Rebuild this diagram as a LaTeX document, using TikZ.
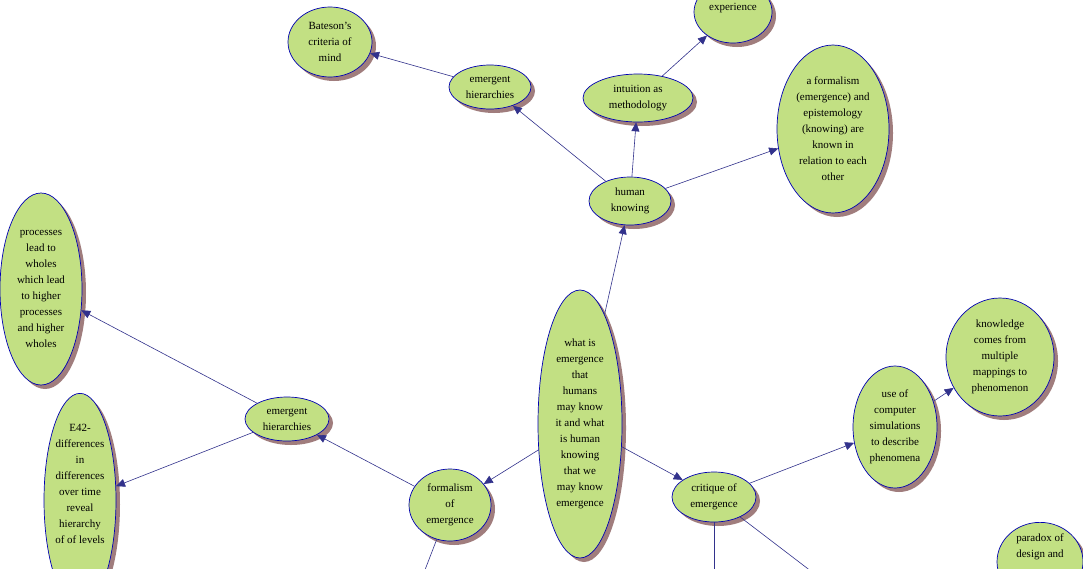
\documentclass[tikz,border=0pt]{standalone}
\usepackage{fontspec}
\setmainfont{Liberation Serif}
\usetikzlibrary{shapes.geometric,arrows.meta,shadows}
\begin{document}
\begin{tikzpicture}[x=1pt,y=1pt,
  nd/.style={ellipse,draw=blue!70!black,line width=0.7pt,fill=green!40!yellow!55!white,fill={rgb,255:red,194;green,224;blue,131},
    inner sep=0pt,align=center,font=\fontsize{11}{16}\selectfont,
    drop shadow={shadow xshift=4pt,shadow yshift=-4pt,fill={rgb,255:red,160;green,125;blue,125},opacity=1}},
  ar/.style={draw={rgb,255:red,50;green,50;blue,140},line width=0.6pt,-{Triangle[length=9pt,width=8pt]},
    shorten >=0pt},
  ln/.style={draw={rgb,255:red,50;green,50;blue,140},line width=0.6pt}]
\clip (0,0) rectangle (1083,-568);
\useasboundingbox (0,0) rectangle (1083,-568);
\fill[white] (0,0) rectangle (1083,-568);
\node[nd,minimum width=78,minimum height=62] (exp) at (733,-12) {\raisebox{10pt}{experience}};
\node[nd,minimum width=84,minimum height=70] (bat) at (330,-42) {Bateson's\\criteria of\\mind};
\node[nd,minimum width=82,minimum height=44] (eht) at (490,-87) {emergent\\hierarchies};
\node[nd,minimum width=110,minimum height=48] (int) at (638,-98) {intuition as\\methodology};
\node[nd,minimum width=112,minimum height=168] (frr) at (833,-129) {a formalism\\(emergence) and\\epistemology\\(knowing) are\\known in\\relation to each\\other};
\node[nd,minimum width=82,minimum height=48] (hk) at (630,-201) {human\\knowing};
\node[nd,minimum width=82,minimum height=192] (pro) at (41,-289) {processes\\lead to\\wholes\\which lead\\to higher\\processes\\and higher\\wholes};
\node[nd,minimum width=84,minimum height=268] (what) at (580,-424) {what is\\emergence\\that\\humans\\may know\\it and what\\is human\\knowing\\that we\\may know\\emergence};
\node[nd,minimum width=84,minimum height=44] (ehl) at (287,-419) {emergent\\hierarchies};
\node[nd,minimum width=72,minimum height=194,anchor=north] (e42) at (80,-393) {E42-\\differences\\in\\differences\\over time\\reveal\\hierarchy\\of of levels\\ \\ };
\node[nd,minimum width=82,minimum height=72] (foe) at (450,-505) {formalism\\of\\emergence};
\node[nd,minimum width=84,minimum height=50] (cri) at (714,-497) {critique of\\emergence};
\node[nd,minimum width=84,minimum height=122] (use) at (895,-427) {use of\\computer\\simulations\\to describe\\phenomena};
\node[nd,minimum width=108,minimum height=118] (kno) at (1000,-357) {knowledge\\comes from\\multiple\\mappings to\\phenomenon};
\node[nd,minimum width=86,minimum height=66,anchor=north] (par) at (1040,-522) {paradox of\\design and\\ \\ };
\coordinate (d1) at (423,-575);
\coordinate (d2) at (714,-580);
\coordinate (d3) at (820,-578);
\coordinate (d4) at (975,-578);
\draw[ar] (int) -- (exp);
\draw[ar] (eht) -- (bat);
\draw[ar] (hk) -- (eht);
\draw[ar] (hk) -- (int);
\draw[ar] (hk) -- (frr);
\draw[ar] (what) -- (hk);
\draw[ar] (ehl) -- (pro);
\draw[ar] (ehl) -- (e42);
\draw[ar] (foe) -- (ehl);
\draw[ln] (foe) -- (d1);
\draw[ar] (what) -- (foe);
\draw[ar] (what) -- (cri);
\draw[ar] (cri) -- (use);
\draw[ar] (use) -- (kno);
\draw[ar] (cri) -- (d2);
\draw[ln] (cri) -- (d3);
\draw[ar] (d4) -- (par);
\end{tikzpicture}
\end{document}
